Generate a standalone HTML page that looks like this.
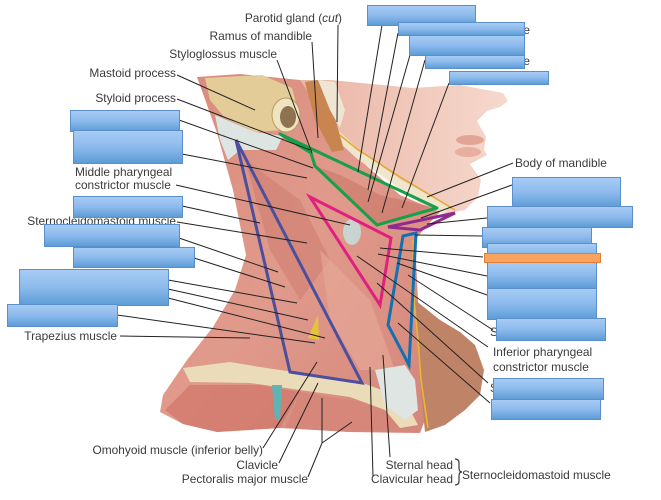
<!DOCTYPE html>
<html><head><meta charset="utf-8"><style>
html,body{margin:0;padding:0;background:#fff;}
svg{display:block;}
text{font-family:"Liberation Sans",sans-serif;font-size:11.9px;fill:#3a3a3a;}
</style></head><body>
<svg width="661" height="500" viewBox="0 0 661 500" xmlns="http://www.w3.org/2000/svg">
<defs>
<linearGradient id="bg" x1="0" y1="0" x2="0" y2="1">
<stop offset="0" stop-color="#a8ccf5"/><stop offset="0.5" stop-color="#8cbaec"/><stop offset="1" stop-color="#5b9bd6"/>
</linearGradient>
<linearGradient id="mus" x1="0" y1="0" x2="1" y2="1">
<stop offset="0" stop-color="#d98a7c"/><stop offset="0.5" stop-color="#e09a8b"/><stop offset="1" stop-color="#d3857a"/>
</linearGradient>
<linearGradient id="face" x1="0" y1="0" x2="1" y2="0">
<stop offset="0" stop-color="#eab5a5"/><stop offset="1" stop-color="#f6d9cd"/>
</linearGradient>
</defs>
<rect width="661" height="500" fill="#fff"/>

<path d="M197,77 L240,74 L300,80 L330,120 L360,160 L400,195 L440,212 L425,228 L415,240 L418,300 L420,360 L425,420 L420,433 L350,432 L280,428 L217,432 L183,424 L160,412 L163,395 L187,360 L213,327 L235,290 L246,255 L233,190 L217,133 Z" fill="url(#mus)"/>
<path d="M245,160 L300,200 L330,260 L300,300 L270,250 Z" fill="#cf7f72" opacity="0.6"/>
<path d="M320,250 L370,300 L395,370 L360,370 L330,320 Z" fill="#e6a797" opacity="0.7"/>
<path d="M190,385 L260,385 L300,392 L280,428 L217,432 L183,424 L165,410 Z" fill="#d2796d" opacity="0.8"/>
<path d="M300,392 L380,405 L410,428 L350,432 L285,428 Z" fill="#d7877a"/>
<path d="M415,300 L440,320 L460,332 L475,345 L484,370 L480,395 L465,410 L445,425 L425,432 L420,380 Z" fill="#bf8467"/>
<path d="M413,240 L414,300 L418,340 L421,380 L428,428" stroke="#e8b830" stroke-width="1.6" fill="none"/>
<path d="M300,80 L330,80 L413,88 L460,85 L503,93 L508,101 L500,107 L487,111 L477,121 L486,137 L484,150 L487,155 L470,164 L481,180 L478,197 L465,210 L445,214 L420,203 L385,178 L350,150 L330,125 L310,95 Z" fill="url(#face)"/>
<ellipse cx="470" cy="140" rx="14" ry="5" fill="#e2a595"/>
<ellipse cx="468" cy="152" rx="13" ry="5" fill="#e8ae9f"/>
<path d="M320,97 L336,134 L360,156 L400,184 L447,210" stroke="#efe6cc" stroke-width="8" fill="none"/>
<path d="M313,86 L330,127 L357,149 L400,177 L455,210" stroke="#e0a830" stroke-width="1.5" fill="none"/>
<path d="M305,82 L318,80 L335,118 L344,150 L332,152 L315,120 Z" fill="#c9854f"/>
<path d="M318,80 L335,82 L345,110 L340,128 L330,110 Z" fill="#efe5d3"/>
<path d="M205,78 L262,75 L292,88 L298,110 L283,130 L255,132 L225,118 L210,100 Z" fill="#e3cc98"/>
<path d="M215,115 L255,132 L283,136 L276,150 L240,150 L228,160 L220,140 Z" fill="#dde5e2"/>
<ellipse cx="286" cy="115" rx="14" ry="17" fill="#efe3c0" stroke="#b99a60" stroke-width="1"/>
<ellipse cx="288" cy="117" rx="8" ry="11" fill="#8f7350"/>
<path d="M315,166 L377,225 L437,208 L380,195 L340,175 Z" fill="#cc7b6c" opacity="0.7"/>
<path d="M183,368 L230,362 L260,367 L300,373 L360,382 L395,395 L410,410 L418,425 L400,428 L385,410 L350,397 L300,390 L250,383 L190,382 Z" fill="#eadcb8"/>
<path d="M375,370 L405,365 L415,380 L418,410 L405,420 L385,405 Z" fill="#dfe5e2"/>
<path d="M272,385 L282,385 L280,420 L275,420 Z" fill="#5fb3b3"/>
<ellipse cx="352" cy="232" rx="9" ry="13" fill="#c9d3cf"/>
<path d="M308,338 L318,315 L319,340 Z" fill="#e6c13a"/>

<path d="M280,134 L311,153 L315,166 L377,225 L437,208 Z" stroke="#16a04a" stroke-width="3" fill="none" stroke-linejoin="round"/>
<path d="M310,197 L391,238 L380,305 Z" stroke="#e0207e" stroke-width="3" fill="none"/>
<path d="M236,140 L290,372 L362,383 Z" stroke="#4c4f9e" stroke-width="3" fill="none"/>
<path d="M403,236 L416,233 L409,365 L388,325 Z" stroke="#1570b0" stroke-width="3" fill="none"/>
<path d="M388,227 L455,213 L420,230 Z" stroke="#8e2b8e" stroke-width="3" fill="none"/>

<g stroke="#222" stroke-width="1" fill="none">
<line x1="338" y1="25" x2="337" y2="122"/>
<line x1="312" y1="42" x2="318" y2="138"/>
<line x1="277" y1="60" x2="312" y2="153"/>
<line x1="177" y1="75" x2="255" y2="110"/>
<line x1="177" y1="99" x2="310" y2="150"/>
<line x1="179" y1="120" x2="313" y2="168"/>
<line x1="182" y1="154" x2="307" y2="178"/>
<line x1="176" y1="185" x2="350" y2="225"/>
<line x1="182" y1="206" x2="260" y2="223"/>
<line x1="177" y1="222" x2="307" y2="243"/>
<line x1="179" y1="238" x2="278" y2="272"/>
<line x1="194" y1="258" x2="285" y2="287"/>
<line x1="168" y1="280" x2="297" y2="303"/>
<line x1="168" y1="289" x2="308" y2="320"/>
<line x1="168" y1="298" x2="325" y2="338"/>
<line x1="117" y1="315" x2="315" y2="343"/>
<line x1="120" y1="336" x2="250" y2="338"/>
<line x1="263" y1="448" x2="317" y2="362"/>
<line x1="279" y1="463" x2="318" y2="383"/>
<polyline points="308,477 322,443 322,398"/>
<line x1="322" y1="443" x2="352" y2="422"/>
<line x1="390" y1="457" x2="383" y2="355"/>
<line x1="373" y1="477" x2="370" y2="367"/>
<line x1="513" y1="163" x2="427" y2="197"/>
<line x1="512" y1="185" x2="421" y2="218"/>
<line x1="487" y1="218" x2="427" y2="224"/>
<line x1="482" y1="236" x2="415" y2="235"/>
<line x1="483" y1="257" x2="380" y2="248"/>
<line x1="487" y1="276" x2="378" y2="254"/>
<line x1="487" y1="295" x2="397" y2="263"/>
<line x1="493" y1="330" x2="408" y2="275"/>
<line x1="488" y1="347" x2="357" y2="256"/>
<line x1="488" y1="383" x2="377" y2="283"/>
<line x1="490" y1="403" x2="398" y2="323"/>
<line x1="382" y1="25" x2="358" y2="172"/>
<line x1="398" y1="33" x2="368" y2="190"/>
<line x1="410" y1="55" x2="368" y2="202"/>
<line x1="425" y1="60" x2="382" y2="213"/>
<line x1="449" y1="83" x2="402" y2="208"/>
</g>

<text x="342" y="22" text-anchor="end">Parotid gland (<tspan font-style="italic">cut</tspan>)</text>
<text x="312" y="40" text-anchor="end">Ramus of mandible</text>
<text x="277" y="58" text-anchor="end">Styloglossus muscle</text>
<text x="176" y="77" text-anchor="end">Mastoid process</text>
<text x="176" y="102" text-anchor="end">Styloid process</text>
<text x="75" y="176">Middle pharyngeal</text>
<text x="75" y="189">constrictor muscle</text>
<text x="176" y="225" text-anchor="end">Sternocleidomastoid muscle</text>
<text x="117" y="340" text-anchor="end">Trapezius muscle</text>
<text x="515" y="167">Body of mandible</text>
<text x="493" y="356">Inferior pharyngeal</text>
<text x="493" y="371">constrictor muscle</text>
<text x="263" y="454" text-anchor="end">Omohyoid muscle (inferior belly)</text>
<text x="278" y="469" text-anchor="end">Clavicle</text>
<text x="308" y="483" text-anchor="end">Pectoralis major muscle</text>
<text x="453" y="469" text-anchor="end">Sternal head</text>
<text x="453" y="483" text-anchor="end">Clavicular head</text>
<path d="M455,459 Q459,459 459,463 L459,468 Q459,472 462,472 Q459,472 459,476 L459,481 Q459,485 455,485" stroke="#3a3a3a" stroke-width="1.2" fill="none"/>
<text x="462" y="479">Sternocleidomastoid muscle</text>
<text x="530" y="34" text-anchor="end">Hyoglossus muscle</text>
<text x="530" y="65" text-anchor="end">Mylohyoid muscle</text>
<text x="490" y="336">Sternothyroid muscle</text>
<text x="490" y="392">Sternohyoid muscle</text>

<g stroke="#5a8fcc" stroke-width="1" fill="url(#bg)">
<rect x="367.5" y="5.5" width="108" height="20"/>
<rect x="398.5" y="22.5" width="126" height="13"/>
<rect x="409.5" y="35.5" width="115" height="20"/>
<rect x="425.5" y="55.5" width="99" height="13"/>
<rect x="449.5" y="71.5" width="99" height="13"/>
<rect x="70.5" y="110.5" width="109" height="21"/>
<rect x="73.5" y="130.5" width="109" height="33"/>
<rect x="73.5" y="196.5" width="109" height="21"/>
<rect x="44.5" y="224.5" width="135" height="22"/>
<rect x="73.5" y="247.5" width="121" height="20"/>
<rect x="19.5" y="269.5" width="149" height="36"/>
<rect x="7.5" y="304.5" width="110" height="22"/>
<rect x="512.5" y="177.5" width="108" height="30"/>
<rect x="487.5" y="206.5" width="145" height="21"/>
<rect x="482.5" y="227.5" width="109" height="20"/>
<rect x="487.5" y="243.5" width="109" height="19"/>
<rect x="487.5" y="262.5" width="109" height="26"/>
<rect x="487.5" y="288.5" width="109" height="31"/>
<rect x="496.5" y="318.5" width="109" height="22"/>
<rect x="493.5" y="378.5" width="110" height="21"/>
<rect x="491.5" y="399.5" width="109" height="20"/>
</g>
<rect x="484.5" y="253.5" width="116" height="9" fill="#f9a35e" stroke="#e07f35" stroke-width="1"/>
</svg>
</body></html>
